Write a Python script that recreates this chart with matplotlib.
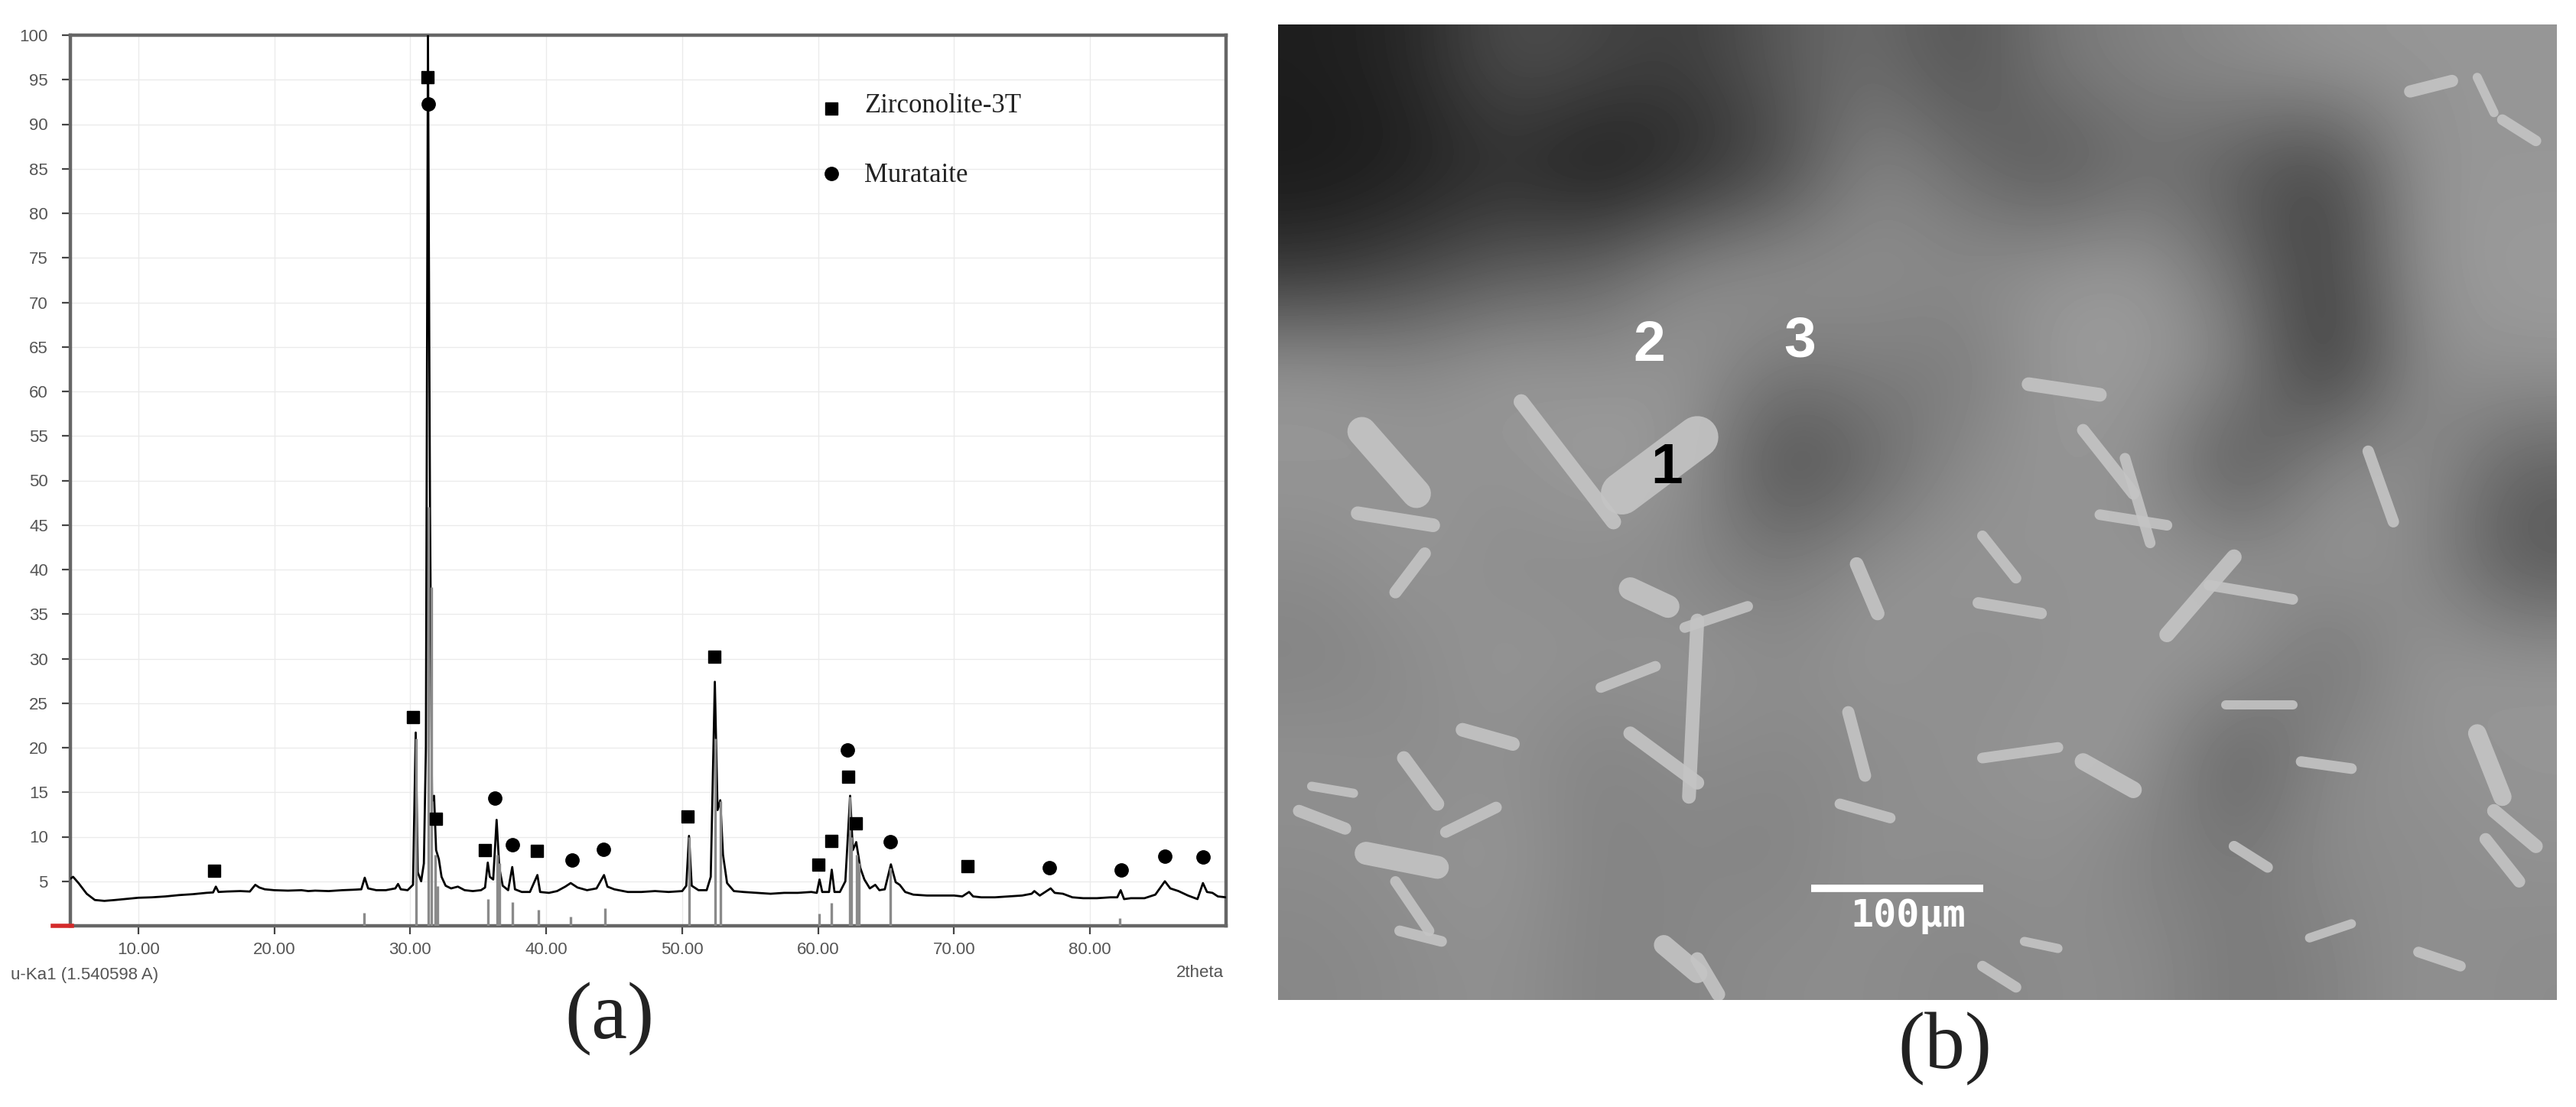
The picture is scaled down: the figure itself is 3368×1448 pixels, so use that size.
import numpy as np
import matplotlib
matplotlib.use("Agg")
import matplotlib.pyplot as plt
from matplotlib.lines import Line2D

# ---------------- data: XRD pattern ----------------
two_theta = [5.0, 5.2, 5.6, 6.2, 6.8, 7.5, 8.3, 9.0, 10.0, 11.0, 12.0, 13.0, 14.0,
             15.0, 15.5, 15.7, 15.9, 16.5, 17.5, 18.2, 18.6, 18.9, 19.3, 20.0, 21.0,
             22.0, 22.5, 23.0, 24.0, 25.0, 25.8, 26.4, 26.65, 26.9, 27.5, 28.2, 28.9,
             29.1, 29.3, 29.8, 30.2, 30.4, 30.55, 30.8, 31.0, 31.15, 31.3, 31.45, 31.6,
             31.75, 31.9, 32.1, 32.3, 32.6, 33.0, 33.5, 34.0, 34.6, 35.2, 35.5, 35.7,
             35.85, 36.1, 36.35, 36.55, 36.8, 37.2, 37.5, 37.7, 38.2, 38.8, 39.35, 39.55,
             40.2, 40.8, 41.4, 41.8, 42.3, 43.0, 43.7, 44.25, 44.5, 45.0, 46.0, 47.0,
             48.0, 49.0, 50.0, 50.3, 50.5, 50.7, 51.2, 51.8, 52.1, 52.4, 52.6, 52.8,
             53.0, 53.3, 53.8, 54.5, 55.5, 56.5, 57.5, 58.5, 59.5, 59.9, 60.1, 60.3,
             60.8, 61.0, 61.2, 61.6, 62.0, 62.35, 62.55, 62.8, 63.1, 63.4, 63.8, 64.2,
             64.5, 64.9, 65.35, 65.7, 66.0, 66.4, 67.0, 68.0, 69.0, 70.0, 70.6, 71.1,
             71.4, 72.0, 73.0, 74.0, 75.0, 75.7, 75.9, 76.3, 77.1, 77.4, 78.0, 78.7,
             79.5, 80.5, 81.5, 82.0, 82.25, 82.5, 83.0, 84.0, 84.8, 85.5, 85.9, 86.5,
             87.2, 87.9, 88.3, 88.6, 89.0, 89.4, 90.0]
intensity = [5.3, 5.5, 4.8, 3.6, 2.9, 2.8, 2.9, 3.0, 3.15, 3.2, 3.3, 3.45, 3.55,
             3.7, 3.75, 4.4, 3.8, 3.85, 3.9, 3.85, 4.6, 4.3, 4.1, 4.0, 3.95,
             4.0, 3.9, 3.95, 3.9, 4.0, 4.05, 4.1, 5.4, 4.2, 4.0, 4.0, 4.2,
             4.7, 4.1, 4.0, 4.6, 21.7, 6.0, 5.0, 7.0, 20.0, 100.0, 47.0, 14.0,
             14.6, 8.5, 7.5, 5.5, 4.5, 4.2, 4.4, 4.0, 3.9, 4.0, 4.3, 7.1,
             5.5, 5.2, 11.9, 6.5, 4.5, 4.0, 6.6, 4.1, 3.8, 3.8, 5.7, 3.8,
             3.7, 3.9, 4.4, 4.8, 4.3, 4.0, 4.2, 5.7, 4.4, 4.1, 3.8, 3.8,
             3.9, 3.8, 3.9, 4.5, 10.1, 4.5, 4.0, 4.0, 5.5, 27.4, 13.0, 14.1,
             8.0, 4.8, 3.9, 3.8, 3.7, 3.6, 3.7, 3.7, 3.8, 3.7, 5.2, 3.8,
             3.8, 6.3, 3.8, 3.8, 5.0, 14.6, 8.5, 9.4, 6.5, 5.2, 4.2, 4.6,
             4.0, 4.1, 6.9, 4.9, 4.6, 3.8, 3.5, 3.4, 3.4, 3.4, 3.3, 3.8,
             3.3, 3.2, 3.2, 3.3, 3.4, 3.6, 3.9, 3.4, 4.2, 3.7, 3.6, 3.2,
             3.1, 3.1, 3.2, 3.2, 4.0, 3.0, 3.1, 3.1, 3.5, 5.0, 4.2, 3.9,
             3.4, 3.0, 4.8, 3.8, 3.7, 3.3, 3.2]

# reference stick pattern (grey bars)
stick_pos = [26.6, 30.45, 31.35, 31.55, 31.85, 32.0, 35.7, 36.4, 36.55, 37.5, 39.4,
             41.8, 44.3, 50.5, 52.4, 52.8, 60.05, 61.0, 62.3, 62.45, 62.85, 63.0,
             65.3, 82.2]
stick_h = [1.5, 21.0, 47.0, 38.0, 8.0, 4.5, 3.0, 8.0, 7.0, 2.7, 1.8,
           1.0, 2.0, 10.0, 21.0, 14.0, 1.4, 2.6, 14.5, 10.0, 8.0, 7.0,
           6.5, 0.9]

# phase markers
zircon_x = [15.6, 30.2, 31.25, 31.9, 35.5, 39.3, 50.4, 52.35, 60.0, 61.0, 62.2, 62.8, 71.0]
zircon_y = [6.2, 23.4, 95.3, 12.0, 8.5, 8.4, 12.3, 30.2, 6.9, 9.5, 16.7, 11.5, 6.7]
murat_x = [31.35, 36.2, 37.5, 41.9, 44.2, 62.15, 65.3, 77.0, 82.3, 85.5, 88.3]
murat_y = [92.3, 14.3, 9.1, 7.4, 8.6, 19.7, 9.4, 6.5, 6.3, 7.8, 7.7]
phase_names = ["Zirconolite-3T", "Murataite"]

x_ticks = [10, 20, 30, 40, 50, 60, 70, 80]
y_ticks = list(range(5, 101, 5))

# coarse grey levels of the SEM micrograph (rows top -> bottom)
sem_grey = [
    [30, 40, 80, 70, 60, 90, 110, 80, 120, 130, 140, 150, 150, 150],
    [25, 30, 45, 20, 40, 70, 140, 110, 80, 110, 90, 60, 150, 150],
    [50, 70, 90, 100, 140, 150, 140, 140, 150, 155, 110, 60, 150, 155],
    [150, 140, 155, 145, 150, 120, 130, 120, 155, 155, 140, 45, 140, 150],
    [150, 150, 145, 160, 150, 70, 100, 140, 150, 145, 75, 140, 145, 100],
    [140, 150, 140, 140, 135, 120, 145, 150, 145, 150, 145, 150, 140, 85],
    [130, 140, 150, 145, 150, 140, 150, 140, 145, 150, 150, 110, 150, 150],
    [145, 140, 145, 130, 140, 135, 140, 145, 150, 150, 90, 140, 145, 150],
    [140, 145, 150, 130, 135, 130, 145, 140, 145, 130, 120, 140, 140, 145],
    [135, 140, 145, 130, 135, 140, 140, 135, 140, 140, 120, 130, 145, 140],
]
# bright needle-like crystals: (x1, y1, x2, y2, thickness) in micrograph pixel units
needle_x1 = [120, 115, 160, 310, 430, 440, 505, 520, 405, 440, 240, 170, 45, 60, 125, 220,
             160, 165, 700, 690, 710, 860, 855, 980, 1000, 1030, 1080, 1130, 1150, 980,
             860, 1320, 1450, 1470, 1460, 1380, 1240, 1250, 1160, 915, 1370, 1450, 1480,
             480, 520, 860, 910]
needle_y1 = [612, 728, 840, 570, 700, 835, 890, 880, 975, 1040, 1035, 1075, 1150, 1115, 1210,
             1180, 1250, 1320, 1010, 1140, 800, 760, 855, 610, 730, 650, 900, 830, 1000, 1080,
             1075, 640, 1040, 1150, 1190, 1350, 1080, 1330, 1200, 545, 130, 110, 170,
             1340, 1360, 1370, 1335]
needle_x2 = [185, 205, 195, 420, 520, 485, 580, 510, 470, 520, 300, 210, 100, 110, 210, 280,
             200, 215, 720, 750, 735, 900, 930, 1040, 1080, 1060, 1160, 1230, 1230, 1040,
             950, 1350, 1480, 1520, 1500, 1430, 1300, 1300, 1200, 1000, 1420, 1470, 1520,
             520, 545, 900, 950]
needle_y2 = [700, 745, 785, 740, 620, 860, 860, 1130, 945, 1110, 1055, 1140, 1175, 1125, 1230,
             1145, 1320, 1335, 1100, 1160, 870, 820, 870, 700, 745, 770, 790, 850, 1000, 1120,
             1060, 740, 1130, 1200, 1250, 1370, 1090, 1310, 1230, 560, 115, 160, 200,
             1380, 1410, 1400, 1345]
needle_w = [38, 18, 16, 20, 55, 30, 14, 18, 14, 18, 18, 18, 16, 12, 30, 15,
            14, 14, 16, 14, 18, 14, 15, 16, 14, 14, 20, 14, 12, 22,
            14, 15, 24, 18, 16, 14, 14, 12, 14, 18, 16, 12, 14,
            26, 18, 14, 12]

# ---------------- figure ----------------
W, H = 3368, 1448
fig = plt.figure(figsize=(W / 100, H / 100), dpi=100)
fig.patch.set_facecolor("white")

def fx(px):
    return px / W

def fy(py):
    return 1 - py / H

# ---- panel (a): XRD ----
ax = fig.add_axes([fx(92), fy(1211), fx(1603) - fx(92), fy(46) - fy(1211)])
ax.set_xlim(5, 90)
ax.set_ylim(0, 100)
ax.grid(True, color="#ebebeb", lw=1.0, zorder=0)
ax.set_axisbelow(True)

ax.plot(two_theta, intensity, color="black", lw=2.0, zorder=3)
ax.vlines(stick_pos, 0, stick_h, color="#8a8a8a", lw=2.4, zorder=4)

ax.plot(zircon_x, zircon_y, ls="none", marker="s", ms=12, color="black", zorder=5)
ax.plot(murat_x, murat_y, ls="none", marker="o", ms=12.5, color="black", zorder=5)

# legend drawn as in the original (markers + serif text inside the plot)
ax.plot([61.0], [91.8], ls="none", marker="s", ms=12, color="black")
ax.plot([61.0], [84.5], ls="none", marker="o", ms=12.5, color="black")
ax.text(63.4, 91.3, phase_names[0], family="Liberation Serif", fontsize=25,
        color="#222222", va="baseline", ha="left")
ax.text(63.4, 83.5, phase_names[1], family="Liberation Serif", fontsize=25,
        color="#222222", va="baseline", ha="left")

ax.set_xticks(x_ticks)
ax.set_xticklabels(["%.2f" % v for v in x_ticks])
ax.set_yticks(y_ticks)
ax.set_yticklabels([str(v) for v in y_ticks])
for lab in ax.get_xticklabels() + ax.get_yticklabels():
    lab.set_family("Liberation Sans")
    lab.set_fontsize(16)
    lab.set_color("#555555")
ax.tick_params(axis="y", direction="out", length=8, width=1.6, color="#444444", pad=13)
ax.tick_params(axis="x", direction="out", length=8, width=1.6, color="#444444", pad=7)
for s in ax.spines.values():
    s.set_color("#666666")
    s.set_linewidth(3.2)

# small red marker at the origin, axis captions
fig.add_artist(Line2D([fx(69), fx(94)], [fy(1211), fy(1211)], color="#d42a2a", lw=4))
fig.text(fx(14), fy(1275), "u-Ka1 (1.540598 A)", family="Liberation Sans", fontsize=16,
         color="#555555", ha="left", va="center")
fig.text(fx(1600), fy(1273), "2theta", family="Liberation Sans", fontsize=16,
         color="#555555", ha="right", va="center")
fig.text(fx(797), fy(1333), "(a)", family="Liberation Serif", fontsize=76,
         color="#222222", ha="center", va="center")

# ---- panel (b): SEM micrograph (coarse grey rendering) ----
ax2 = fig.add_axes([fx(1671), fy(1308), fx(3343) - fx(1671), fy(32) - fy(1308)])
ax2.imshow(np.array(sem_grey, dtype=float), cmap="gray", vmin=0, vmax=255,
           interpolation="bicubic", aspect="auto", extent=(20, 1545, 1418, 35))
for x1, y1, x2, y2, w in zip(needle_x1, needle_y1, needle_x2, needle_y2, needle_w):
    ax2.plot([x1, x2], [y1, y2], color="#c4c4c4", lw=w / 1.39,
             solid_capstyle="round", alpha=0.9)
ax2.set_xlim(20, 1545)
ax2.set_ylim(1418, 35)
ax2.set_xticks([])
ax2.set_yticks([])
for s in ax2.spines.values():
    s.set_visible(False)

fig.text(fx(2156), fy(452), "2", family="Liberation Sans", weight="bold", fontsize=54,
         color="white", ha="center", va="center")
fig.text(fx(2353), fy(447), "3", family="Liberation Sans", weight="bold", fontsize=54,
         color="white", ha="center", va="center")
fig.text(fx(2179), fy(613), "1", family="Liberation Sans", weight="bold", fontsize=54,
         color="black", ha="center", va="center")
fig.add_artist(Line2D([fx(2368), fx(2593)], [fy(1162), fy(1162)], color="white", lw=7,
                      solid_capstyle="butt"))
fig.text(fx(2495), fy(1198), "100μm", family="DejaVu Sans Mono", weight="bold",
         fontsize=36, color="white", ha="center", va="center")
fig.text(fx(2543), fy(1372), "(b)", family="Liberation Serif", fontsize=76,
         color="#222222", ha="center", va="center")

fig.savefig("out.png", dpi=100, facecolor="white")
